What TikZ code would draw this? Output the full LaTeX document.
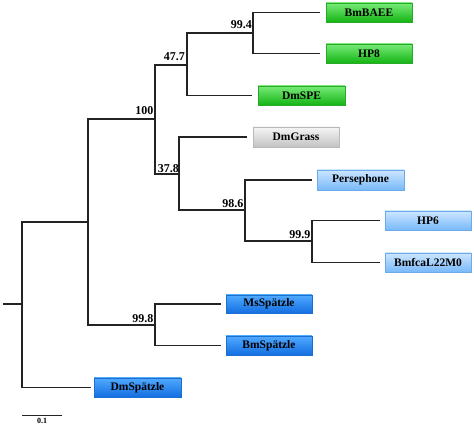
\documentclass[tikz,border=0pt]{standalone}
\usepackage{fontspec}
\setmainfont{Liberation Serif}
\usetikzlibrary{calc}
\definecolor{gtop}{RGB}{120,235,120}
\definecolor{gbot}{RGB}{20,180,20}
\definecolor{gdraw}{RGB}{40,170,40}
\definecolor{ytop}{RGB}{245,245,245}
\definecolor{ybot}{RGB}{195,195,195}
\definecolor{ydraw}{RGB}{185,185,185}
\definecolor{ltop}{RGB}{205,230,255}
\definecolor{lbot}{RGB}{120,185,250}
\definecolor{ldraw}{RGB}{110,170,235}
\definecolor{dtop}{RGB}{80,170,255}
\definecolor{dbot}{RGB}{20,110,225}
\definecolor{ddraw}{RGB}{30,110,210}
\definecolor{branch}{RGB}{35,35,35}
\tikzset{
  leafbox/.style={minimum width=86pt, minimum height=19pt, inner sep=0pt,
    font=\bfseries\fontsize{11.5}{12}\selectfont, text=black, line width=0.6pt},
  greenbox/.style={leafbox, top color=gtop, bottom color=gbot, draw=gdraw},
  graybox/.style={leafbox, top color=ytop, bottom color=ybot, draw=ydraw},
  lightbox/.style={leafbox, top color=ltop, bottom color=lbot, draw=ldraw},
  darkbox/.style={leafbox, top color=dtop, bottom color=dbot, draw=ddraw},
  br/.style={draw=branch, line width=1.05pt},
  lab/.style={font=\bfseries\fontsize{12}{12}\selectfont, inner sep=0pt, anchor=base east, text=black}
}
\begin{document}
\begin{tikzpicture}[x=1pt,y=-1pt]
\useasboundingbox (0,0) rectangle (474,427);
% leaves
\node[greenbox] (bmbaee) at (369,12.5) {BmBAEE};
\node[greenbox] (hp8) at (369,53.5) {HP8};
\node[greenbox, minimum width=87pt] (dmspe) at (301.5,95.5) {DmSPE};
\node[graybox, minimum height=20pt] (dmgrass) at (296,137) {DmGrass};
\node[lightbox, minimum width=87pt, minimum height=20pt] (perse) at (360.5,180) {Persephone};
\node[lightbox] (hp6) at (428,220.5) {HP6};
\node[lightbox] (bmfca) at (428,262.5) {BmfcaL22M0};
\node[darkbox, minimum height=18pt] (msspa) at (269,304) {MsSpätzle};
\node[darkbox] (bmspa) at (269,345.5) {BmSpätzle};
\node[darkbox, minimum width=87pt] (dmspa) at (137.5,387.5) {DmSpätzle};
% internal nodes
\coordinate (r) at (3,304);
\coordinate (A) at (22,304);
\coordinate (B) at (88,222);
\coordinate (C) at (155,119);
\coordinate (D) at (187,65);
\coordinate (E) at (253,33);
\coordinate (F) at (179,174);
\coordinate (G) at (245,210);
\coordinate (H) at (312,241);
\coordinate (I) at (155,325);
% branches
\draw[br] (r) -- (A);
\draw[br] (A) |- (B);
\draw[br] (A) |- ([xshift=-3pt]dmspa.west);
\draw[br] (B) |- (C);
\draw[br] (B) |- (I);
\draw[br] (C) |- (D);
\draw[br] (C) |- (F);
\draw[br] (D) |- (E);
\draw[br] (D) |- ([xshift=-6pt]dmspe.west);
\draw[br] (E) |- ([xshift=-6pt]bmbaee.west);
\draw[br] (E) |- ([xshift=-6pt]hp8.west);
\draw[br] (F) |- ([xshift=-6pt]dmgrass.west);
\draw[br] (F) |- (G);
\draw[br] (G) |- ([xshift=-5pt]perse.west);
\draw[br] (G) |- (H);
\draw[br] (H) |- ([xshift=-5pt]hp6.west);
\draw[br] (H) |- ([xshift=-5pt]bmfca.west);
\draw[br] (I) |- ([xshift=-5pt]msspa.west);
\draw[br] (I) |- ([xshift=-5pt]bmspa.west);
% support values
\node[lab] (l100) at ([xshift=-1.5pt,yshift=4pt]C) {100};
\node[lab] (l477) at ([xshift=-2pt,yshift=4.5pt]D) {47.7};
\node[lab] (l994) at ([xshift=-1pt,yshift=4pt]E) {99.4};
\node[lab] (l378) at ([xshift=0pt,yshift=1.5pt]F) {37.8};
\node[lab] (l986) at ([xshift=-1.5pt,yshift=2.5pt]G) {98.6};
\node[lab] (l999) at ([xshift=-1.5pt,yshift=2.5pt]H) {99.9};
\node[lab] (l998) at ([xshift=-1.5pt,yshift=2.5pt]I) {99.8};
% scale bar
\coordinate (s1) at (22,415.7);
\coordinate (s2) at (62,415.7);
\draw[br] (s1) -- (s2);
\node[font=\bfseries\fontsize{8}{8}\selectfont, inner sep=0pt, anchor=north, text=black] (sl) at ([yshift=-2pt]$(s1)!0.5!(s2)$) {0.1};
\end{tikzpicture}
\end{document}
